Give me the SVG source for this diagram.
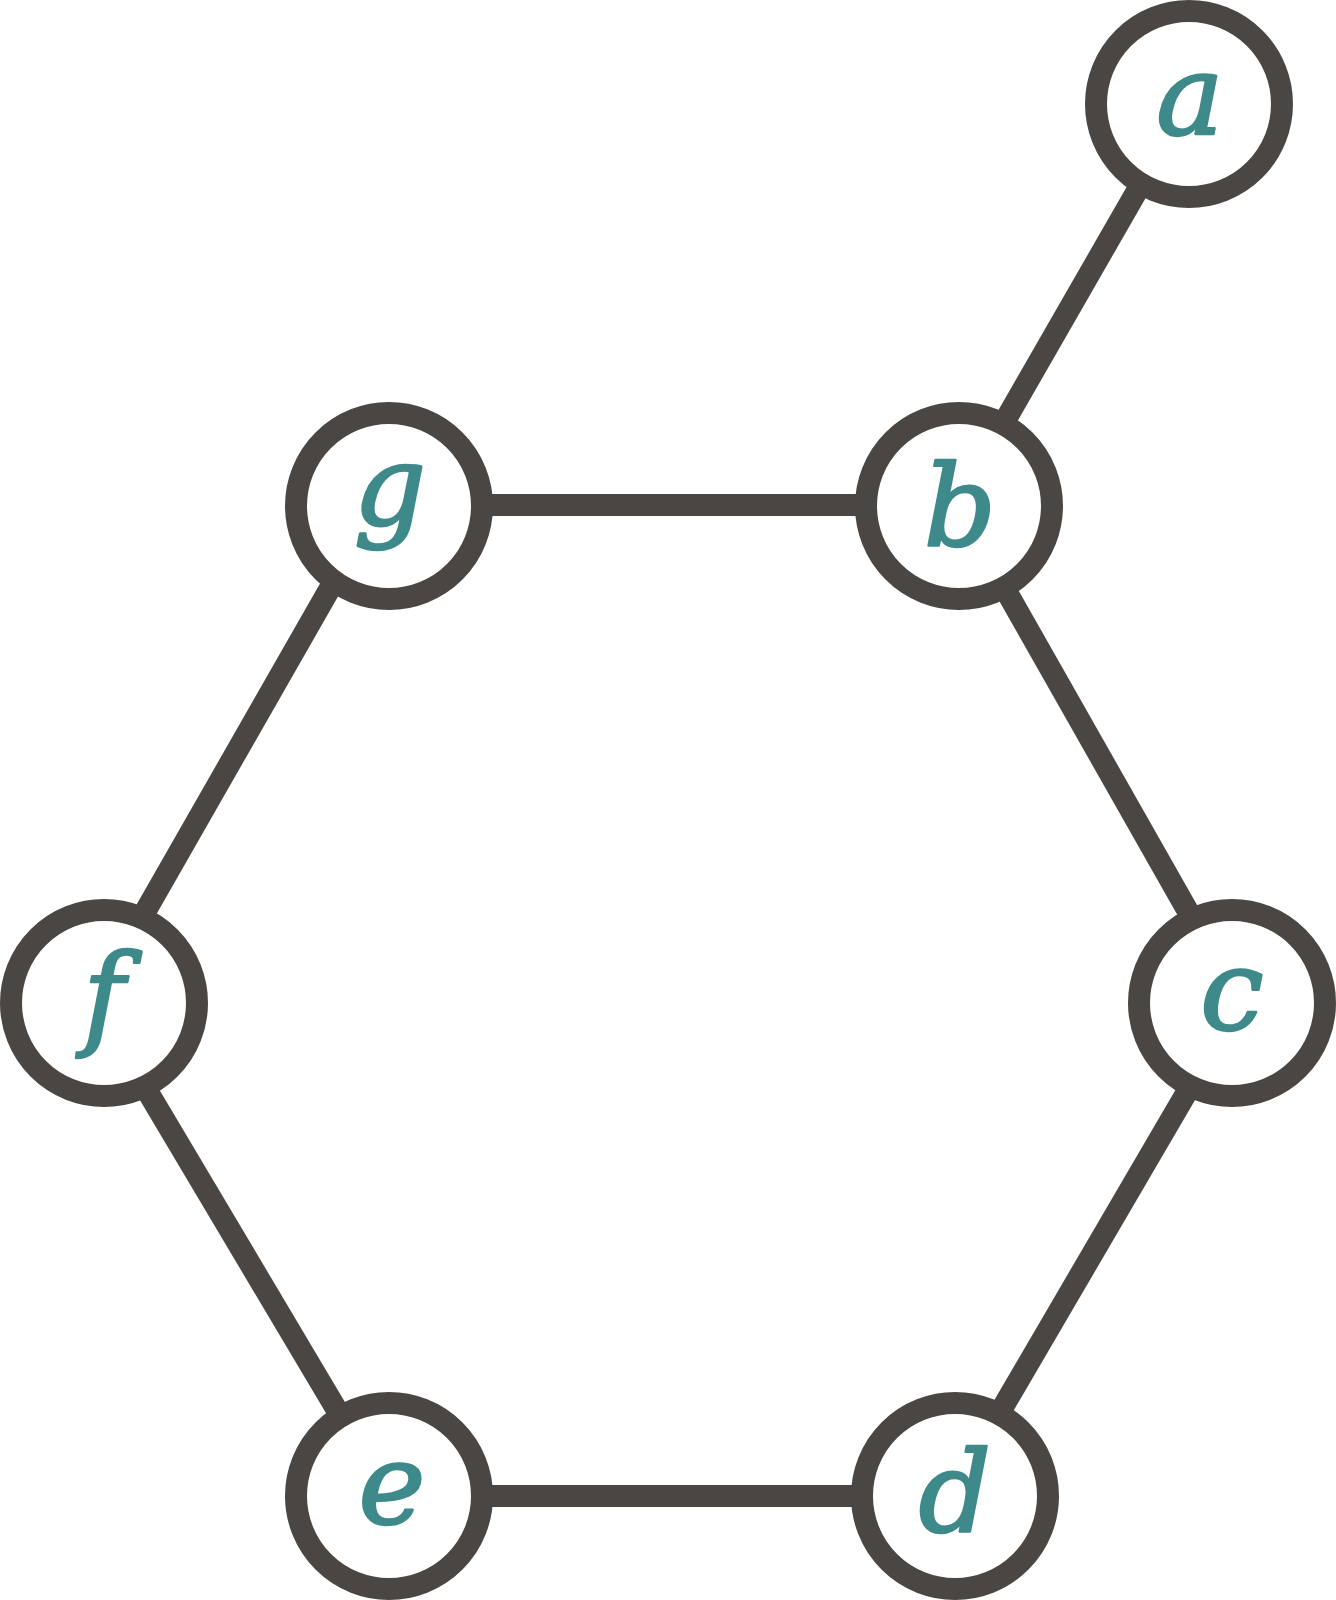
<svg xmlns="http://www.w3.org/2000/svg" width="1336" height="1600" viewBox="0 0 1336 1600">
<style>
.edge{stroke:#4a4643;stroke-width:22;fill:none}
.node circle{fill:#ffffff;stroke:#4a4643;stroke-width:22}
.node text{font-family:"DejaVu Serif","Liberation Serif",serif;font-style:italic;font-size:113px;fill:#3e8a8a;stroke:#3e8a8a;stroke-width:2.5;stroke-linejoin:round;text-anchor:middle}
</style>
<rect width="1336" height="1600" fill="#ffffff"/>
<g id="edges">
<line class="edge" x1="1187" y1="104" x2="956" y2="506"/>
<line class="edge" x1="389" y1="505" x2="959" y2="505"/>
<line class="edge" x1="958" y1="506" x2="1240" y2="1003"/>
<line class="edge" x1="377" y1="506" x2="93" y2="1003"/>
<line class="edge" x1="95" y1="1003" x2="388" y2="1496"/>
<line class="edge" x1="389" y1="1496" x2="955" y2="1496"/>
<line class="edge" x1="1239" y1="1003" x2="951" y2="1496"/>
</g>
<g id="node-a" class="node"><circle cx="1189" cy="104" r="93"/><text x="1190" y="134">a</text></g>
<g id="node-b" class="node"><circle cx="959" cy="506" r="93"/><text x="960" y="545">b</text></g>
<g id="node-g" class="node"><circle cx="389" cy="506" r="93"/><text x="390" y="525">g</text></g>
<g id="node-f" class="node"><circle cx="104" cy="1003" r="93"/><text x="104" y="1035">f</text></g>
<g id="node-c" class="node"><circle cx="1232" cy="1003" r="93"/><text x="1232" y="1029">c</text></g>
<g id="node-e" class="node"><circle cx="389" cy="1496" r="93"/><text x="392" y="1523">e</text></g>
<g id="node-d" class="node"><circle cx="955" cy="1496" r="93"/><text x="955" y="1531">d</text></g>
</svg>
